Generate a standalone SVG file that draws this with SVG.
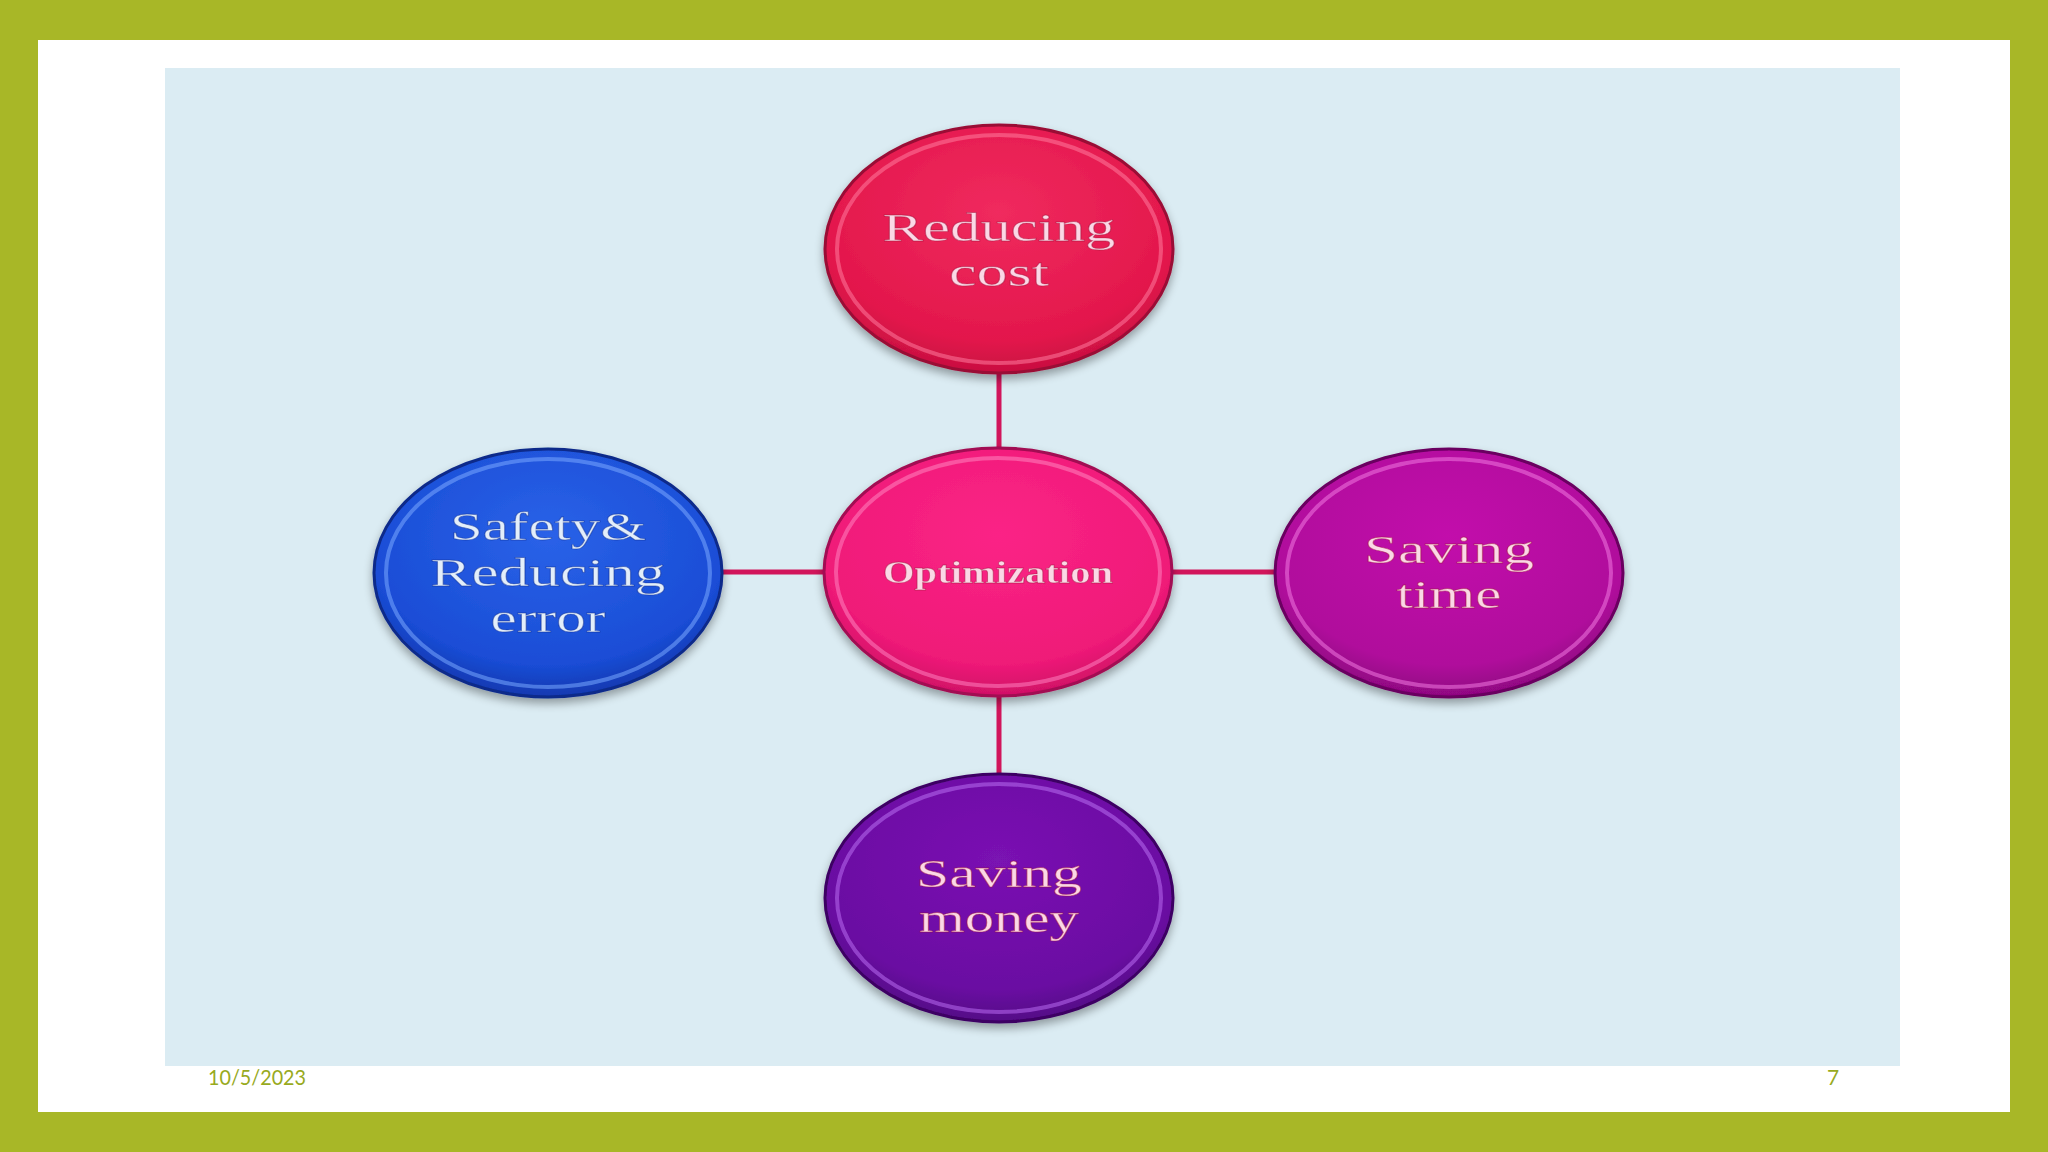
<svg xmlns="http://www.w3.org/2000/svg" width="2048" height="1152" viewBox="0 0 2048 1152">
  <defs>
    <radialGradient id="gTop" cx="50%" cy="35%" r="65%">
      <stop offset="0" stop-color="#f02a5e"/>
      <stop offset="0.8" stop-color="#e3174c"/>
      <stop offset="1" stop-color="#c80f40"/>
    </radialGradient>
    <radialGradient id="gCenter" cx="50%" cy="35%" r="65%">
      <stop offset="0" stop-color="#fb2486"/>
      <stop offset="0.8" stop-color="#ef1a78"/>
      <stop offset="1" stop-color="#d01066"/>
    </radialGradient>
    <radialGradient id="gLeft" cx="50%" cy="35%" r="65%">
      <stop offset="0" stop-color="#2a62e8"/>
      <stop offset="0.8" stop-color="#1a4dd6"/>
      <stop offset="1" stop-color="#1238b0"/>
    </radialGradient>
    <radialGradient id="gRight" cx="50%" cy="35%" r="65%">
      <stop offset="0" stop-color="#c20cab"/>
      <stop offset="0.8" stop-color="#b00a9c"/>
      <stop offset="1" stop-color="#8e0680"/>
    </radialGradient>
    <radialGradient id="gBottom" cx="50%" cy="35%" r="65%">
      <stop offset="0" stop-color="#7a12b2"/>
      <stop offset="0.8" stop-color="#6a0aa2"/>
      <stop offset="1" stop-color="#540886"/>
    </radialGradient>
    <filter id="shadow" x="-20%" y="-20%" width="140%" height="150%">
      <feGaussianBlur in="SourceAlpha" stdDeviation="5"/>
      <feOffset dy="5" result="b"/>
      <feComponentTransfer><feFuncA type="linear" slope="0.35"/></feComponentTransfer>
      <feMerge><feMergeNode/><feMergeNode in="SourceGraphic"/></feMerge>
    </filter>
  </defs>
  <style>
    .edge { stroke: #d1155b; stroke-width: 5; fill: none; }
    .outer { stroke-width: 3; }
    .rim { fill: none; stroke-width: 4; stroke-opacity: 0.55; }
    .lbl { font-family: "Liberation Serif", "Times New Roman", serif; font-size: 40px; text-anchor: middle; stroke-width: 0.8; }
    .pinkt { fill: #fbd8e6; stroke: #a0103a; stroke-opacity: 0.5; }
    .bluet { fill: #e3eefa; stroke: #0c2c90; stroke-opacity: 0.5; }
    .foot { font-family: "Lato", "Open Sans", sans-serif; font-size: 21px; fill: #98aa1e; }
  </style>

  <rect x="0" y="0" width="2048" height="1152" fill="#a8b727"/>
  <rect x="38" y="40" width="1972" height="1072" fill="#ffffff"/>
  <rect x="165" y="68" width="1735" height="998" fill="#dbecf3"/>

  <g id="connectors">
    <line class="edge" x1="999" y1="372" x2="999" y2="450"/>
    <line class="edge" x1="999" y1="695" x2="999" y2="775"/>
    <line class="edge" x1="721" y1="572" x2="826" y2="572"/>
    <line class="edge" x1="1171" y1="572" x2="1276" y2="572"/>
  </g>

  <g id="node-top" filter="url(#shadow)">
    <ellipse class="outer" cx="999" cy="249" rx="174" ry="124" fill="url(#gTop)" stroke="#9a0c36"/>
    <ellipse class="rim" cx="999" cy="249" rx="162" ry="114" stroke="#ff7a9c"/>
    <text class="lbl pinkt" x="999" y="241" textLength="233" lengthAdjust="spacingAndGlyphs">Reducing</text>
    <text class="lbl pinkt" x="999" y="286" textLength="100" lengthAdjust="spacingAndGlyphs">cost</text>
  </g>

  <g id="node-center" filter="url(#shadow)">
    <ellipse class="outer" cx="998" cy="572" rx="174" ry="124" fill="url(#gCenter)" stroke="#a20c52"/>
    <ellipse class="rim" cx="998" cy="572" rx="162" ry="114" stroke="#ff82c0"/>
    <text class="lbl pinkt" x="998" y="583" style="font-size:32px;font-weight:bold" textLength="230" lengthAdjust="spacingAndGlyphs">Optimization</text>
  </g>

  <g id="node-left" filter="url(#shadow)">
    <ellipse class="outer" cx="548" cy="573" rx="174" ry="124" fill="url(#gLeft)" stroke="#0d2a8a"/>
    <ellipse class="rim" cx="548" cy="573" rx="162" ry="114" stroke="#7aa8ff"/>
    <text class="lbl bluet" x="548" y="540" textLength="196" lengthAdjust="spacingAndGlyphs">Safety&amp;</text>
    <text class="lbl bluet" x="548" y="586" textLength="235" lengthAdjust="spacingAndGlyphs">Reducing</text>
    <text class="lbl bluet" x="548" y="632" textLength="115" lengthAdjust="spacingAndGlyphs">error</text>
  </g>

  <g id="node-right" filter="url(#shadow)">
    <ellipse class="outer" cx="1449" cy="573" rx="174" ry="124" fill="url(#gRight)" stroke="#6a0460"/>
    <ellipse class="rim" cx="1449" cy="573" rx="162" ry="114" stroke="#f07ae0"/>
    <text class="lbl pinkt" x="1449" y="563" textLength="170" lengthAdjust="spacingAndGlyphs">Saving</text>
    <text class="lbl pinkt" x="1449" y="608" textLength="105" lengthAdjust="spacingAndGlyphs">time</text>
  </g>

  <g id="node-bottom" filter="url(#shadow)">
    <ellipse class="outer" cx="999" cy="898" rx="174" ry="124" fill="url(#gBottom)" stroke="#3e0664"/>
    <ellipse class="rim" cx="999" cy="898" rx="162" ry="114" stroke="#b870f0"/>
    <text class="lbl pinkt" x="999" y="887" textLength="166" lengthAdjust="spacingAndGlyphs">Saving</text>
    <text class="lbl pinkt" x="999" y="932" textLength="160" lengthAdjust="spacingAndGlyphs">money</text>
  </g>

  <text class="foot" x="208" y="1085" textLength="98" lengthAdjust="spacingAndGlyphs">10/5/2023</text>
  <text class="foot" x="1827" y="1085">7</text>
</svg>
